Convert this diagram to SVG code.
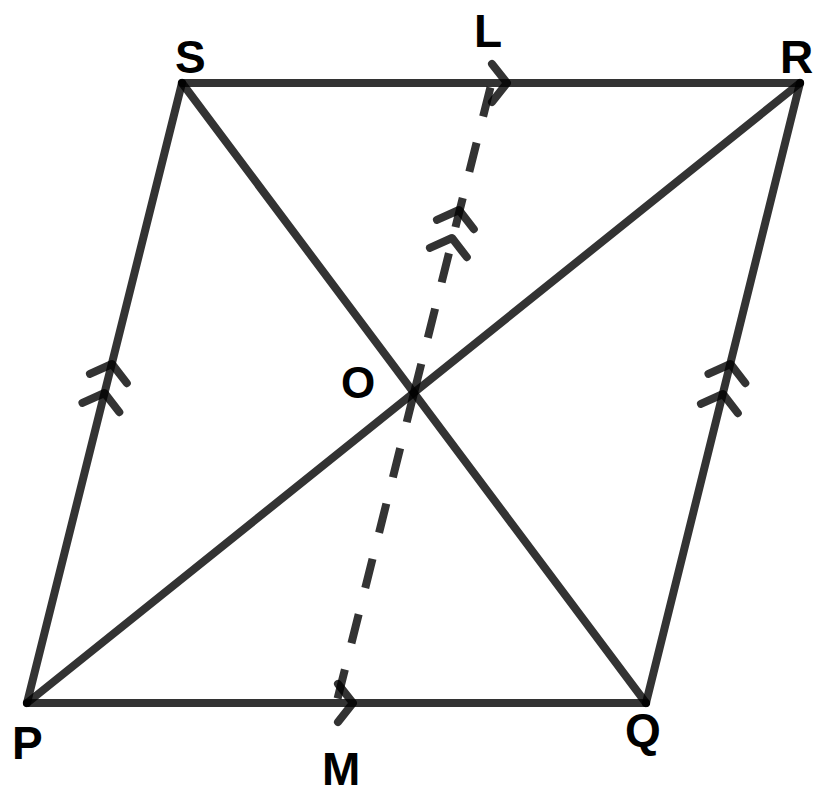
<svg xmlns="http://www.w3.org/2000/svg" xmlns:xlink="http://www.w3.org/1999/xlink" width="828" height="799" viewBox="0 0 828 799">
<style>
.ln{stroke:#000;stroke-opacity:0.8;stroke-width:8;fill:none;stroke-linecap:round;stroke-linejoin:round}
.dash{stroke:#000;stroke-opacity:0.8;stroke-width:8;fill:none;stroke-linecap:butt;stroke-dasharray:30 27}
.lbl{font-family:"Liberation Sans",Arial,sans-serif;font-weight:bold;font-size:46px;fill:#000}
</style>
<defs>
<path id="chev" class="ln" d="M-15,-19 L0,0 L-15,19"/>
</defs>
<rect width="828" height="799" fill="#fff"/>
<g id="connectors">
<line class="ln" x1="27" y1="703" x2="646" y2="703"/>
<line class="ln" x1="182" y1="83" x2="800" y2="83"/>
<line class="ln" x1="27" y1="703" x2="182" y2="83"/>
<line class="ln" x1="646" y1="703" x2="800" y2="83"/>
<line class="ln" x1="27" y1="703" x2="800" y2="83"/>
<line class="ln" x1="182" y1="83" x2="646" y2="703"/>
<line class="dash" x1="414" y1="393" x2="492" y2="81"/>
<line class="dash" x1="414" y1="393" x2="336.5" y2="703"/>
<use xlink:href="#chev" transform="translate(507,83)"/>
<use xlink:href="#chev" transform="translate(353,703)"/>
<use xlink:href="#chev" transform="translate(112,364) rotate(-76)"/>
<use xlink:href="#chev" transform="translate(104.5,393) rotate(-76)"/>
<use xlink:href="#chev" transform="translate(730.5,364) rotate(-76)"/>
<use xlink:href="#chev" transform="translate(723,394) rotate(-76)"/>
<use xlink:href="#chev" transform="translate(459,210) rotate(-76)"/>
<use xlink:href="#chev" transform="translate(452,238) rotate(-76)"/>
</g>
<g id="node-S"><text class="lbl" x="175" y="73">S</text></g>
<g id="node-L"><text class="lbl" x="474" y="47">L</text></g>
<g id="node-R"><text class="lbl" x="780" y="73">R</text></g>
<g id="node-O"><text class="lbl" x="341" y="398" style="font-size:44px">O</text></g>
<g id="node-P"><text class="lbl" x="12" y="759">P</text></g>
<g id="node-Q"><text class="lbl" x="625" y="746">Q</text></g>
<g id="node-M"><text class="lbl" x="322" y="785">M</text></g>
</svg>
